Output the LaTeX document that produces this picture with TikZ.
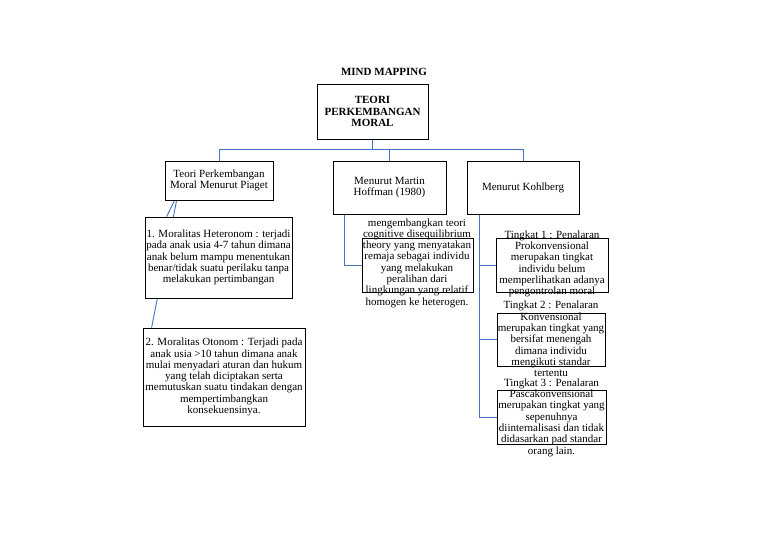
\documentclass[tikz,border=0pt]{standalone}
\usepackage{fontspec}
\setmainfont{Liberation Serif}
\usetikzlibrary{calc,backgrounds}
\definecolor{linkblue}{HTML}{4472C4}
\begin{document}
\begin{tikzpicture}[x=1pt,y=-1pt,
  every node/.style={font=\fontsize{11}{11.3}\selectfont, inner sep=0pt, align=center},
  box/.style={draw=black, line width=0.8pt, fill=white},
  link/.style={draw=linkblue, line width=0.9pt}]
\useasboundingbox (0,0) rectangle (768,543);
% title
\node[font=\fontsize{11}{11.3}\selectfont\bfseries] (title) at (384,72) {MIND MAPPING};
% main
\node[box, minimum width=111pt, minimum height=55pt, font=\fontsize{11}{11.3}\selectfont\bfseries] (main) at (372.5,111.5) {TEORI\\PERKEMBANGAN\\MORAL};
% level 1
\node[box, minimum width=108pt, minimum height=39pt] (piaget) at (219,180.5) {Teori Perkembangan\\Moral Menurut Piaget};
\node[box, minimum width=113pt, minimum height=53pt] (hoffman) at (389.5,187.5) {Menurut Martin\\Hoffman (1980)};
\node[box, minimum width=112pt, minimum height=53pt] (kohlberg) at (523,187.5) {Menurut Kohlberg};
% Piaget children
\node[box, minimum width=147pt, minimum height=81pt] (hetero) at (218.5,257.5) {1. Moralitas Heteronom : terjadi\\pada anak usia 4-7 tahun dimana\\anak belum mampu menentukan\\benar/tidak suatu perilaku tanpa\\melakukan pertimbangan};
\node[box, minimum width=162pt, minimum height=98pt] (otonom) at (224,377) {2. Moralitas Otonom : Terjadi pada\\anak usia >10 tahun dimana anak\\mulai menyadari aturan dan hukum\\yang telah diciptakan serta\\memutuskan suatu tindakan dengan\\mempertimbangkan\\konsekuensinya.};
% Hoffman child
\node[box, minimum width=111pt, minimum height=54pt] (hoffbox) at (417.5,265) {};
\node (hofftext) at (417,263) {mengembangkan teori\\cognitive disequilibrium\\theory yang menyatakan\\remaja sebagai individu\\yang melakukan\\peralihan dari\\lingkungan yang relatif\\homogen ke heterogen.};
% Kohlberg children
\node[box, minimum width=112pt, minimum height=54pt] (tonebox) at (552,265) {};
\node (tonetext) at (552,264) {Tingkat 1 : Penalaran\\Prokonvensional\\merupakan tingkat\\individu belum\\memperlihatkan adanya\\pengontrolan moral};
\node[box, minimum width=108pt, minimum height=53pt] (ttwobox) at (551,339.5) {};
\node (ttwotext) at (551,339) {Tingkat 2 : Penalaran\\Konvensional\\merupakan tingkat yang\\bersifat menengah\\dimana individu\\mengikuti standar\\tertentu};
\node[box, minimum width=109pt, minimum height=54pt] (tthreebox) at (551.5,417) {};
\node (tthreetext) at (551.5,417.5) {Tingkat 3 : Penalaran\\Pascakonvensional\\merupakan tingkat yang\\sepenuhnya\\diinternalisasi dan tidak\\didasarkan pad standar\\orang lain.};
% connectors
\begin{scope}[on background layer]
\draw[link] (main.south) -- ++(0,11);
\draw[link] (piaget.north) -- ++(0,-11) -| (kohlberg.north);
\draw[link] (hoffman.north) -- ++(0,-11);
\draw[link] ($(piaget.south west)+(10,0)$) -- ($(hetero.north west)+(22,0)$);
\draw[link] ($(piaget.south west)+(12,0)$) -- ($(otonom.north west)+(9,0)$);
\draw[link] ($(hoffman.south west)+(12,0)$) |- (hoffbox.west);
\draw[link] ($(kohlberg.south west)+(13,0)$) |- (tonebox.west);
\draw[link] ($(kohlberg.south west)+(13,0)$) |- (ttwobox.west);
\draw[link] ($(kohlberg.south west)+(13,0)$) |- (tthreebox.west);
\end{scope}
\end{tikzpicture}
\end{document}
